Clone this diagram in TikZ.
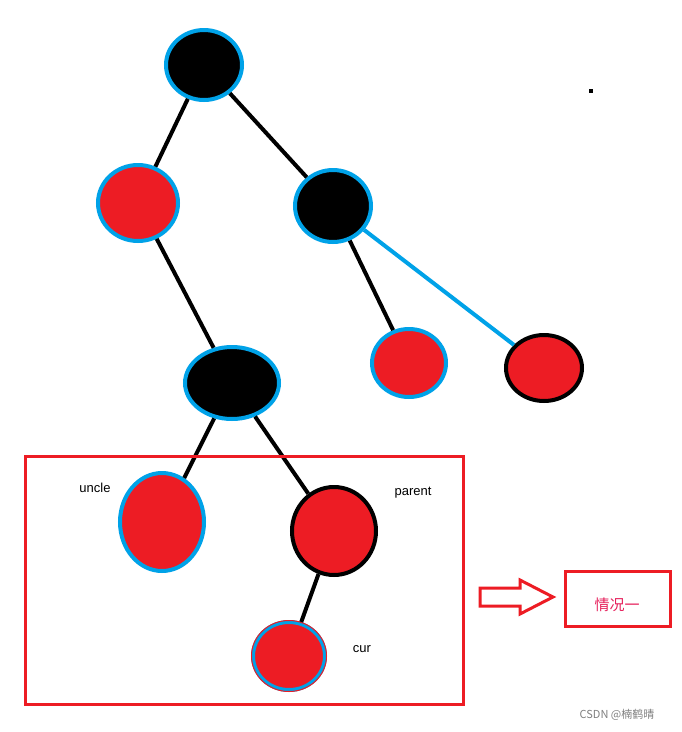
\documentclass[tikz,border=0pt]{standalone}
\usetikzlibrary{shapes.geometric}
\usepackage{fontspec}
\setmainfont{Liberation Sans}
\newfontfamily\cjk{Noto Sans CJK SC}
\definecolor{bl}{RGB}{0,162,232}
\definecolor{rd}{RGB}{237,28,36}
\begin{document}
\begin{tikzpicture}[x=1pt,y=-1pt,
  e/.style={line width=4pt},
  lbl/.style={font=\fontsize{13}{13}\selectfont}]
\useasboundingbox (0,0) rectangle (682,732);
\fill[white] (0,0) rectangle (682,732);
\tikzset{el/.style args={#1/#2/#3/#4}{draw=#4,fill=#3,line width=4pt,ellipse,inner sep=0pt,minimum width=2*#1,minimum height=2*#2}}
\node[el=38/35/black/bl] (r) at (204,65) {};
\node[el=40/38/rd/bl] (a) at (138,203) {};
\node[el=38/36/black/bl] (b) at (333,206) {};
\node[el=47/36/black/bl] (c) at (232,383) {};
\node[el=37/34/rd/bl] (d) at (409,363) {};
\node[el=38/33/rd/black] (e) at (544,368) {};
\node[el=42/49/rd/bl] (u) at (162,522) {};
\node[el=42/44/rd/black] (p) at (334,531) {};
\node[el=36/34/rd/bl] (cu) at (289,656) {};
\draw[rd,line width=1pt] (cu) ellipse (37.5pt and 35.5pt);
\draw[e] (r)--(a); \draw[e] (r)--(b); \draw[e] (a)--(c); \draw[e] (b)--(d);
\draw[e,bl] (b)--(e); \draw[e] (c)--(u); \draw[e] (c)--(p); \draw[e] (p)--(cu);
\node[lbl] (lu) at (95,488) {uncle};
\node[lbl] (lp) at (413,493) {parent};
\node[lbl] (lc) at (362,649) {cur};
\draw[rd,line width=3pt] (25,456) rectangle (463,704);
\draw[rd,line width=3pt,line join=miter] (480,588)--(520,588)--(520,580)--(553,597)--(520,614)--(520,606)--(480,606)--cycle;
\draw[rd,line width=3pt] (565,571) rectangle (670,626);
\node[font=\cjk\fontsize{15}{15}\selectfont,text={rgb,255:red,230;green,30;blue,90}] (t) at (617,605) {情况一};
\fill (589,89) rectangle (593,93);
\node[font=\cjk\fontsize{11}{11}\selectfont,text=gray] (w) at (617,715) {CSDN @楠鹤晴};
\end{tikzpicture}
\end{document}
